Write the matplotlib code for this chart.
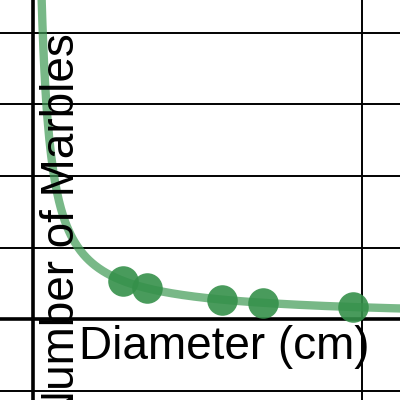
import numpy as np
import matplotlib.pyplot as plt

plt.rcParams['font.family'] = ['Liberation Sans', 'DejaVu Sans']

# measured marbles: diameter vs number (scaled units)
diameter = [0.274, 0.347, 0.574, 0.699, 0.973]
marbles = [0.531, 0.434, 0.266, 0.224, 0.168]

# power-law fit drawn through the points
fit_a = 0.165
fit_p = 0.908

fig = plt.figure(figsize=(4, 4), dpi=100)
ax = fig.add_axes([0, 0, 1, 1])
ax.set_xlim(-0.1, 1.115)
ax.set_ylim(-1.13, 4.46)
ax.axis('off')

# grid
for gx in [1.0]:
    ax.axvline(gx, color='black', lw=1.4, zorder=1)
for gy in [-1, 1, 2, 3, 4]:
    ax.axhline(gy, color='black', lw=1.4, zorder=1)
ax.axvline(0, color='black', lw=2.6, zorder=1)
ax.axhline(0, color='black', lw=2.6, zorder=1)

xs = np.linspace(0.02, 1.2, 400)
ax.plot(xs, fit_a * xs ** -fit_p, color='#3f9a55', alpha=0.7, lw=6,
        solid_capstyle='round', zorder=2)
ax.plot(diameter, marbles, 'o', color='#35904a', alpha=0.9, ms=22,
        mec='none', zorder=3)

ax.text(0.14, -0.08, 'Diameter (cm)', fontsize=33, ha='left', va='top', zorder=4)
ax.text(0.02, 4.0, 'Number of Marbles', fontsize=33, rotation=90,
        ha='left', va='top', zorder=4)

fig.savefig('out.png')
